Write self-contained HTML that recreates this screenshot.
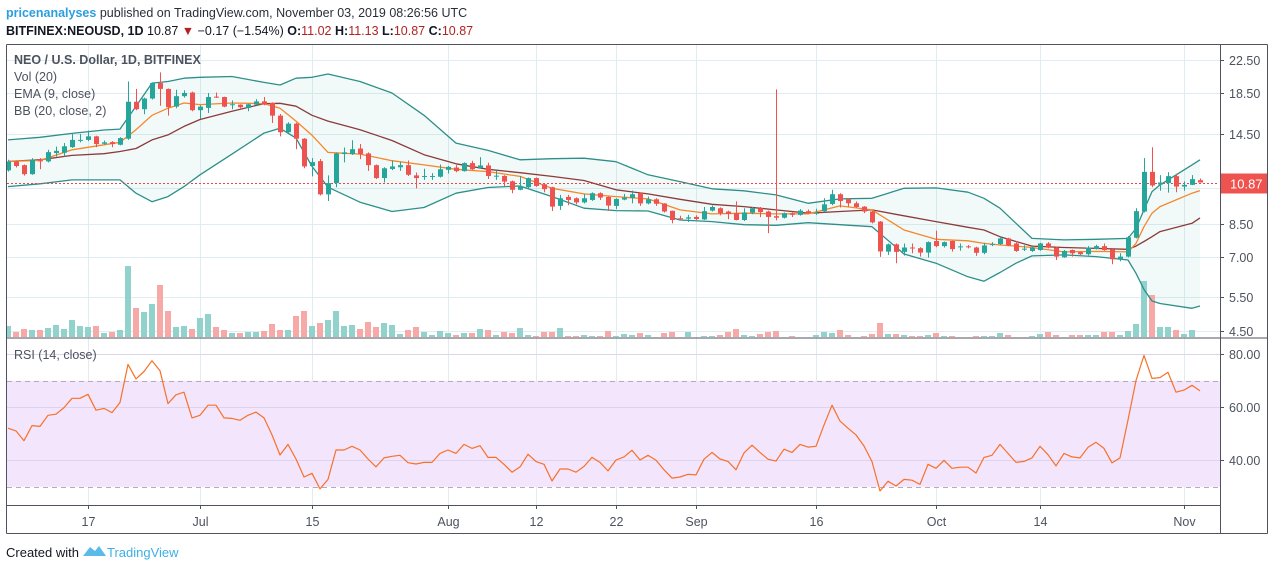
<!DOCTYPE html>
<html><head><meta charset="utf-8">
<style>
html,body{margin:0;padding:0;background:#fff;}
svg{display:block;font-family:"Liberation Sans",sans-serif;}
</style></head>
<body>
<svg id="chart" width="1274" height="570" viewBox="0 0 1274 570" xmlns="http://www.w3.org/2000/svg">
  <g font-size="12.5">
    <text x="6" y="17" fill="#2a2e39"><tspan fill="#2a9fe0" font-weight="bold">pricenanalyses</tspan> published on TradingView.com, November 03, 2019 08:26:56 UTC</text>
    <text x="6" y="35" fill="#131722"><tspan font-weight="bold">BITFINEX:NEOUSD, 1D</tspan> 10.87 <tspan fill="#b22222">▼</tspan> −0.17 (−1.54%) <tspan font-weight="bold">O:</tspan><tspan fill="#b22222">11.02</tspan> <tspan font-weight="bold">H:</tspan><tspan fill="#b22222">11.13</tspan> <tspan font-weight="bold">L:</tspan><tspan fill="#b22222">10.87</tspan> <tspan font-weight="bold">C:</tspan><tspan fill="#b22222">10.87</tspan></text>
  </g>
  <g id="grid"></g>
  <g id="rsi-bg"></g>
  <defs>
    <clipPath id="mainClip"><rect x="7" y="45" width="1212" height="292"/></clipPath>
    <clipPath id="rsiClip"><rect x="7" y="339" width="1212" height="165"/></clipPath>
  </defs>
  <g id="main" clip-path="url(#mainClip)"></g>
  <g id="rsi" clip-path="url(#rsiClip)"></g>
  <g id="axes"></g>
  <g font-size="12.5" fill="#4c525e">
    <text x="14" y="64" font-weight="bold">NEO / U.S. Dollar, 1D, BITFINEX</text>
    <text x="14" y="81">Vol (20)</text>
    <text x="14" y="98">EMA (9, close)</text>
    <text x="14" y="115">BB (20, close, 2)</text>
    <text x="14" y="359">RSI (14, close)</text>
  </g>
  <g font-size="13">
    <text x="6" y="557" fill="#131722">Created with</text>
    <path d="M83 556 L90 547 L95 551 L99 546 L106 556 Z M88 556 L94 551 L99 556 Z" fill="#5bbbe8"/>
    <text x="107" y="557" fill="#3cb0e6">TradingView</text>
  </g>
</svg>
<script>
const opens=[11.68,12.32,12.05,11.42,12.4,12.32,12.95,12.97,13.41,13.95,14.0,14.3,13.68,13.82,13.6,14.1,17.56,16.8,17.9,19.62,18.95,17.06,18.15,18.55,16.7,16.93,18.1,18.06,17.2,17.26,16.93,17.26,17.6,17.43,16.17,14.65,15.42,14.1,11.99,12.34,10.13,10.83,12.87,12.87,13.3,12.92,12.05,11.16,11.78,11.9,12.05,11.34,11.27,11.27,11.25,11.72,11.88,11.63,12.2,11.85,12.03,11.3,11.3,10.95,10.41,10.57,11.16,10.76,10.57,9.46,9.98,9.9,9.66,9.8,10.2,9.98,9.46,9.82,9.92,10.22,9.6,9.84,9.6,9.19,8.79,8.77,8.86,8.73,9.2,9.33,9.15,9.06,8.7,9.08,9.33,9.15,8.9,8.82,9.06,8.97,9.17,9.06,9.17,9.57,10.14,9.84,9.61,9.42,9.15,8.62,7.21,7.53,7.2,7.39,7.36,7.17,7.68,7.45,7.68,7.42,7.44,7.39,7.16,7.52,7.54,7.8,7.57,7.32,7.24,7.28,7.57,7.39,6.97,7.28,7.19,7.1,7.32,7.45,7.31,6.89,7.0,7.83,9.15,11.58,10.74,10.83,11.29,10.61,10.72,11.02];
const highs=[12.44,12.39,12.1,12.56,12.56,13.2,13.45,13.74,14.58,14.5,14.8,14.35,13.95,13.9,14.22,19.8,18.95,18.0,19.7,20.9,19.0,18.86,18.8,18.65,17.2,18.5,18.55,18.1,17.7,17.3,17.35,17.83,18.06,17.5,16.33,15.55,15.5,14.15,12.56,12.5,11.34,13.0,13.38,13.97,13.66,13.0,12.1,11.9,12.39,12.3,12.39,11.54,11.8,11.49,12.1,12.0,12.05,12.25,12.37,12.64,12.22,11.67,11.35,11.0,11.3,11.2,11.2,10.8,10.6,10.1,10.1,9.95,10.16,10.25,10.25,10.0,9.9,10.16,10.37,10.25,10.0,9.9,9.62,9.2,8.92,8.97,8.95,9.4,9.48,9.38,9.2,9.72,9.33,9.4,9.4,9.2,18.9,9.1,9.1,9.28,9.26,9.3,9.9,10.41,10.2,9.9,9.72,9.45,9.2,8.65,7.57,7.57,7.57,7.57,7.4,7.66,8.17,7.66,7.7,7.57,7.5,7.42,7.6,7.63,7.91,7.83,7.68,7.49,7.49,7.6,7.63,7.42,7.28,7.3,7.22,7.45,7.51,7.57,7.33,7.14,7.91,9.33,12.56,13.4,11.36,11.56,11.45,10.94,11.36,11.13];
const lows=[11.6,11.88,11.32,11.38,11.76,12.25,12.69,12.69,13.35,13.8,13.9,13.4,13.6,13.4,13.55,14.0,16.7,16.3,17.8,17.15,16.17,16.9,18.0,16.6,15.85,16.43,17.95,17.0,16.8,16.9,16.6,17.2,17.2,15.48,14.3,14.6,13.25,11.83,11.27,10.06,9.74,10.57,12.25,12.8,12.49,11.65,11.1,10.87,11.7,11.65,11.3,10.5,11.04,11.04,11.2,11.47,11.55,11.6,11.7,11.8,11.1,11.04,10.65,10.2,10.38,10.5,10.6,10.26,9.18,9.24,9.5,9.55,9.6,9.75,9.8,9.18,9.28,9.78,9.6,9.46,9.55,9.46,9.1,8.53,8.7,8.6,8.7,8.7,9.15,8.94,8.74,8.68,8.65,9.0,8.85,8.05,8.68,8.78,8.86,8.93,9.02,8.97,9.12,9.5,9.37,9.42,9.35,9.06,8.53,6.99,7.07,6.73,7.04,7.14,7.0,6.96,7.4,7.39,7.21,7.25,7.35,7.03,7.1,7.45,7.5,7.45,7.2,7.24,7.2,7.25,7.35,6.86,6.95,7.0,7.07,7.05,7.3,7.25,6.69,6.81,6.97,7.8,9.1,10.57,10.35,10.24,10.26,10.35,10.7,10.87];
const closes=[12.32,11.99,11.42,12.44,12.37,13.02,13.12,13.48,14.0,14.0,14.3,13.66,13.8,13.66,14.15,17.56,16.8,17.9,19.62,18.95,17.0,18.15,18.5,16.7,17.06,18.06,18.0,17.06,17.3,17.0,17.3,17.6,17.26,16.17,14.65,15.42,14.1,11.96,12.27,10.13,10.83,12.92,13.0,13.25,12.87,12.05,11.16,11.83,11.96,12.05,11.38,11.16,11.3,11.3,11.76,11.93,11.63,12.2,11.76,12.03,11.3,11.32,10.93,10.41,10.61,11.16,10.65,10.45,9.42,9.9,9.8,9.66,9.9,10.2,9.94,9.48,9.86,9.94,10.14,9.6,9.84,9.58,9.15,8.7,8.75,8.84,8.75,9.17,9.4,9.06,9.02,8.7,9.1,9.33,9.12,8.86,8.82,9.06,8.97,9.2,9.06,9.08,9.55,10.14,9.74,9.61,9.4,9.15,8.58,7.22,7.53,7.2,7.39,7.37,7.17,7.63,7.45,7.63,7.32,7.44,7.4,7.16,7.48,7.54,7.8,7.48,7.24,7.34,7.38,7.57,7.38,7.0,7.24,7.14,7.1,7.39,7.45,7.28,6.89,7.0,7.85,9.17,11.58,10.68,10.87,11.29,10.61,10.72,11.09,10.87];
const volumes=[12,6,9,8,8,10,13,9,18,12,11,12,5,6,8,72,30,26,34,53,27,11,12,9,20,24,11,8,5,5,6,6,7,14,8,8,22,27,12,15,18,27,12,13,9,16,11,15,13,4,8,11,6,3,7,5,3,5,5,9,8,3,6,5,10,3,2,6,6,10,2,2,3,2,2,7,2,4,3,5,3,1,5,6,1,6,1,2,2,3,6,9,3,2,4,6,7,1,2,1,1,3,6,5,8,3,1,2,4,15,4,4,3,2,2,3,5,2,2,1,1,2,2,2,5,3,1,1,2,4,6,3,1,3,3,3,3,6,6,3,7,14,57,43,11,11,8,4,8,1];
const bandIdx=[0,4,8,12,14,16,18,20,22,24,28,32,34,36,38,40,44,48,52,56,60,64,68,72,76,80,84,88,92,96,100,104,108,112,116,120,122,124,126,128,132,136,140,141,142,143,144,148,149];
const bbUpper=[14.0,14.22,14.55,14.85,14.93,17.1,19.62,19.8,20.2,20.3,20.4,19.7,19.4,20.2,20.3,20.7,19.8,18.5,16.2,13.74,13.15,12.44,12.52,12.56,12.3,11.38,10.93,10.47,10.35,10.1,9.61,9.86,9.9,10.5,10.53,10.26,9.9,9.33,8.53,7.8,7.73,7.76,7.8,8.27,9.24,10.3,10.72,12.07,12.44];
const bbBasis=[12.32,12.44,12.77,12.9,13.07,13.3,14.0,14.42,15.17,15.8,16.6,17.37,17.4,17.1,16.2,15.65,14.87,13.95,12.82,12.15,11.76,11.52,11.27,11.0,10.41,10.16,9.84,9.55,9.42,9.24,9.06,9.15,9.24,8.92,8.62,8.33,8.2,7.88,7.66,7.45,7.39,7.35,7.31,7.45,7.66,7.88,8.12,8.53,8.81];
const bbLower=[10.61,10.79,11.04,11.04,11.04,10.2,9.7,10.0,10.61,11.38,12.87,14.58,15.0,14.15,11.96,10.57,9.67,9.15,9.37,10.2,10.55,10.65,10.0,9.33,9.2,9.18,8.7,8.62,8.46,8.43,8.56,8.46,8.36,7.11,6.73,6.21,6.05,6.37,6.73,7.03,7.07,7.0,6.86,6.34,5.76,5.38,5.3,5.15,5.22];
const ema9=[12.32,12.39,13.2,13.6,13.8,14.87,16.2,16.9,17.43,17.26,17.43,17.37,16.9,15.65,14.4,13.0,12.87,12.37,12.07,11.76,11.6,11.27,10.5,10.16,10.0,9.86,9.24,9.02,9.06,9.02,9.02,9.46,9.24,8.2,7.76,7.69,7.57,7.5,7.45,7.39,7.2,7.22,7.2,7.57,8.36,9.06,9.42,10.2,10.36];
const rsiValues=[52.1,51.1,47.4,53.1,52.8,57.0,57.4,59.9,63.4,63.4,64.9,58.9,59.6,58.0,61.8,76.2,70.7,73.5,77.6,73.8,61.4,64.7,65.7,56.0,57.0,60.8,60.8,56.0,55.8,55.1,57.0,58.2,56.0,49.6,42.0,46.0,40.5,33.7,35.1,29.2,32.8,43.9,43.9,45.3,43.9,40.5,37.5,40.9,41.5,41.9,39.1,38.6,39.2,39.2,42.6,43.9,42.6,46.0,44.5,45.5,41.1,41.1,38.5,35.5,37.5,42.3,39.5,38.5,32.2,36.7,36.7,35.5,37.7,41.1,39.2,36.0,40.1,41.3,43.8,40.1,41.9,40.0,36.4,33.3,33.7,34.7,34.5,40.4,43.0,40.5,39.6,36.4,42.8,45.7,43.0,40.4,39.7,44.2,43.0,46.0,45.0,45.3,53.3,60.8,54.8,52.1,49.6,45.4,39.5,28.4,32.1,30.3,32.8,32.5,30.9,38.5,37.0,40.0,37.0,37.4,37.4,35.2,41.1,41.9,46.0,42.6,39.2,39.6,40.9,45.3,42.1,37.9,42.6,41.3,40.9,44.9,46.8,44.5,39.0,40.9,55.2,70.1,79.6,70.9,71.2,73.2,65.7,66.5,68.3,66.2];
const priceTicks=[22.5,18.5,14.5,10.5,8.5,7.0,5.5,4.5];
const rsiTicks=[80,60,40];
const rsiBands=[70,30];
const timeTickIdx=[10,24,38,55,66,76,86,101,116,129,147];
const timeTickLabels=["17","Jul","15","Aug","12","22","Sep","16","Oct","14","Nov"];
const lastPrice=10.87;

const NS="http://www.w3.org/2000/svg";
const X0=8, DX=8, LEFT=7, RIGHT=1220, MTOP=45, MBOT=338, RTOP=339, RBOT=505;
const xOf=i=>X0+DX*i;
const yP=p=>60+(Math.log(22.5)-Math.log(p))*168.4;
const yR=v=>354.3+(80-v)*2.65;
const volMax=Math.max(...volumes);
const yV=v=>MBOT-v/volMax*72;
function mk(tag,attrs,parent){const e=document.createElementNS(NS,tag);for(const k in attrs)e.setAttribute(k,attrs[k]);parent.appendChild(e);return e;}
const grid=document.getElementById('grid'),main=document.getElementById('main'),rsi=document.getElementById('rsi'),axes=document.getElementById('axes'),rsiBg=document.getElementById('rsi-bg');

timeTickIdx.forEach(i=>{
  const l=mk('line',{x1:xOf(i)+.5,x2:xOf(i)+.5,y1:MTOP,y2:RBOT,stroke:'#e1ecf2','stroke-width':1},grid);
  
  
});
priceTicks.forEach(p=>{
  const y=Math.round(yP(p))+.5;
  const l=mk('line',{x1:LEFT,x2:RIGHT,y1:y,y2:y,stroke:'#e1ecf2','stroke-width':1},grid);
  
  
});
const bandR=mk('rect',{x:LEFT,y:yR(rsiBands[0]),width:RIGHT-LEFT,height:yR(rsiBands[1])-yR(rsiBands[0]),fill:'#f3e5fc'},rsiBg);


rsiTicks.forEach(v=>{
  const y=Math.round(yR(v))+.5;
  const l=mk('line',{x1:LEFT,x2:RIGHT,y1:y,y2:y,stroke:'#dcd3ee','stroke-width':1},rsiBg);
  
  
});
rsiBands.forEach(v=>{
  const y=Math.round(yR(v))+.5;
  const l=mk('line',{x1:LEFT,x2:RIGHT,y1:y,y2:y,stroke:'#b7aab9','stroke-width':1,'stroke-dasharray':'5,4'},rsiBg);
  
  
});

let fillD='M'+bandIdx.map((i,k)=>xOf(i)+','+yP(bbUpper[k]).toFixed(1)).join('L');
for(let k=bandIdx.length-1;k>=0;k--)fillD+='L'+xOf(bandIdx[k])+','+yP(bbLower[k]).toFixed(1);
fillD+='Z';
const bbFill=mk('path',{d:fillD,fill:'rgba(38,166,154,0.06)'},main);



volumes.forEach((v,i)=>{
  const up=closes[i]>=opens[i];
  const y=yV(v);
  const r=mk('rect',{x:xOf(i)-3,y:y,width:6,height:MBOT-y,fill:up?'#92d2cc':'#f7a9a7'},main);
  
  
});

function line(vals,color,w,name,parent,yf,idx){
  const d='M'+vals.map((v,k)=>xOf(idx?idx[k]:k)+','+yf(v).toFixed(1)).join('L');
  const p=mk('path',{d:d,fill:'none',stroke:color,'stroke-width':w,'stroke-linejoin':'round'},parent);
  
  
}
line(bbUpper,'#2c8f8a',1.3,'bb-upper',main,yP,bandIdx);
line(bbLower,'#2c8f8a',1.3,'bb-lower',main,yP,bandIdx);
line(bbBasis,'#8b3b3b',1.3,'bb-basis',main,yP,bandIdx);
line(ema9,'#f7862a',1.3,'ema-9',main,yP,bandIdx);

const ly=Math.round(yP(lastPrice))+.5;
const lpl=mk('line',{x1:LEFT,x2:RIGHT,y1:ly,y2:ly,stroke:'#e04a4a','stroke-width':1,'stroke-dasharray':'2,2'},main);



closes.forEach((c,i)=>{
  const o=opens[i],up=c>=o,col=up?'#26a69a':'#ef5350',x=xOf(i);
  const g=mk('g',{},main);
  
  
  mk('line',{x1:x+.5,x2:x+.5,y1:yP(highs[i]),y2:yP(lows[i]),stroke:col,'stroke-width':1},g);
  const yt=yP(Math.max(o,c)),yb=yP(Math.min(o,c));
  mk('rect',{x:x-2,y:yt,width:5,height:Math.max(1,yb-yt),fill:col},g);
});

line(rsiValues,'#f7712a',1.2,'rsi-line',rsi,yR,null);

function ln(x1,y1,x2,y2,name){const l=mk('line',{x1,y1,x2,y2,stroke:'#50535e','stroke-width':1},axes);}
ln(6.5,44.5,1267.5,44.5,'frame-top');
ln(6.5,44.5,6.5,533.5,'frame-left');
ln(1267.5,44.5,1267.5,533.5,'frame-right');
ln(6.5,533.5,1267.5,533.5,'frame-bottom');
ln(1220.5,44.5,1220.5,533.5,'price-axis-line');
ln(6.5,338,1267.5,338,'pane-separator');
ln(6.5,505.5,1220.5,505.5,'time-axis-line');
priceTicks.forEach(p=>{
  const y=Math.round(yP(p))+.5;
  mk('line',{x1:1220,x2:1224,y1:y,y2:y,stroke:'#50535e'},axes);
  const t=mk('text',{x:1229,y:y+4.5,'font-size':12.5,fill:'#4c525e'},axes);
  t.textContent=p.toFixed(2);
  
  
});
rsiTicks.forEach(v=>{
  const y=Math.round(yR(v))+.5;
  mk('line',{x1:1220,x2:1224,y1:y,y2:y,stroke:'#50535e'},axes);
  const t=mk('text',{x:1229,y:y+4.5,'font-size':12.5,fill:'#4c525e'},axes);
  t.textContent=v.toFixed(2);
  
  
});
timeTickIdx.forEach((i,k)=>{
  const x=xOf(i)+.5;
  mk('line',{x1:x,x2:x,y1:505,y2:509,stroke:'#50535e'},axes);
  const t=mk('text',{x:x,y:526,'font-size':12.5,fill:'#4c525e','text-anchor':'middle'},axes);
  t.textContent=timeTickLabels[k];
  
  
});
const badge=mk('rect',{x:1221,y:ly-10,width:46,height:20,fill:'#ef5350'},axes);


const bt=mk('text',{x:1230,y:ly+5,'font-size':13,fill:'#fff'},axes);
bt.textContent=lastPrice.toFixed(2);


</script>
</body></html>
